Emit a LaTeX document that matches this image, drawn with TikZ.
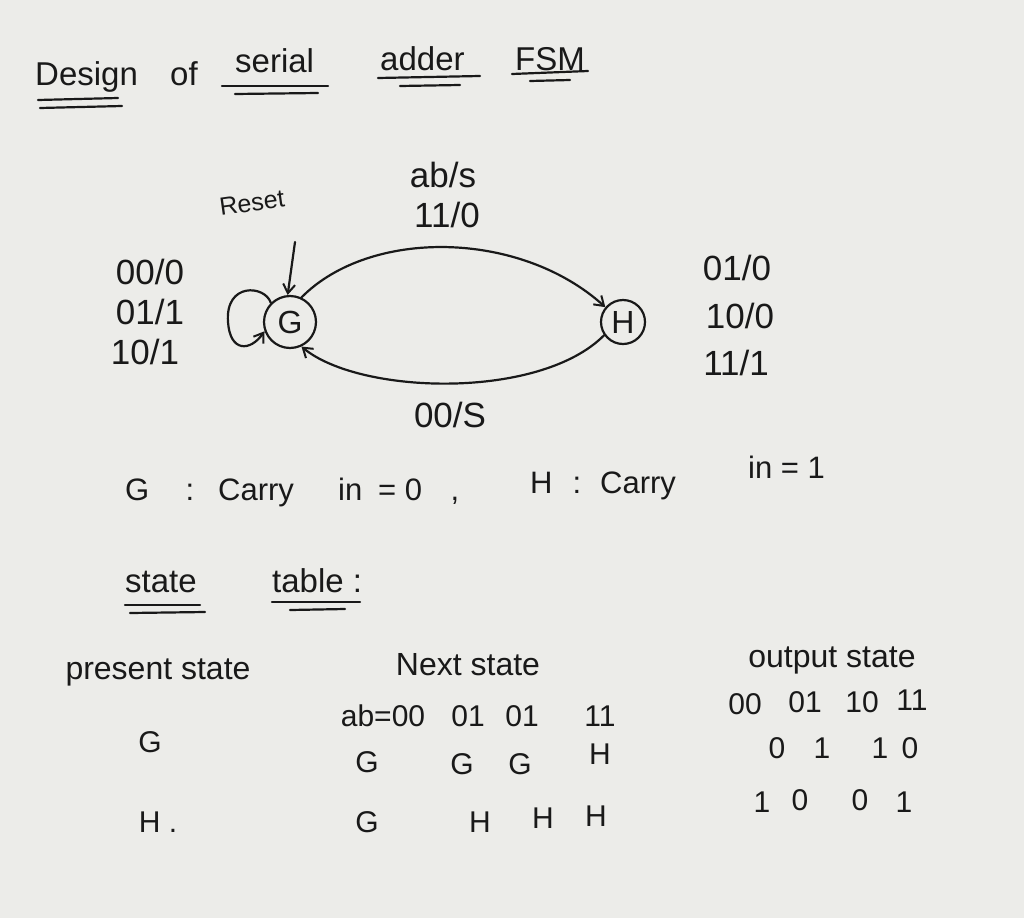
\documentclass[tikz,border=0pt]{standalone}
\usepackage{fontspec}
\setmainfont{Liberation Sans}
\usetikzlibrary{arrows.meta}
\definecolor{paper}{RGB}{236,236,233}
\definecolor{ink}{RGB}{25,25,25}
\begin{document}
\begin{tikzpicture}[x=1pt,y=-1pt,
  every node/.style={text=ink,inner sep=0pt},
  big/.style={font=\fontsize{33}{36}\selectfont},
  lab/.style={font=\fontsize{35}{38}\selectfont},
  mid/.style={font=\fontsize{31}{34}\selectfont},
  head/.style={font=\fontsize{32}{35}\selectfont},
  tab/.style={font=\fontsize{30}{33}\selectfont},
  pen/.style={draw=ink,line width=2.2pt,line cap=round},
  statebox/.style={circle,draw=ink,line width=2.2pt,minimum size=52pt,font=\fontsize{32}{34}\selectfont},
  arr/.style={pen,-{Straight Barb[length=9pt,width=12pt,line width=2pt]}}]
\fill[paper] (0,0) rectangle (1024,918);
\useasboundingbox (0,0) rectangle (1024,918);
% title
\node[big,anchor=base west] (t1) at (35,85) {Design};
\node[big,anchor=base west] (t2) at (170,85) {of};
\node[big,anchor=base west] (t3) at (235,72) {serial};
\node[big,anchor=base west] (t4) at (380,70) {adder};
\node[big,anchor=base west] (t5) at (515,70) {FSM};
\draw[pen] (38,100) -- (118,98); \draw[pen] (40,108) -- (122,106);
\draw[pen] (222,86) -- (328,86); \draw[pen] (235,94) -- (318,93);
\draw[pen] (378,78) -- (480,76); \draw[pen] (400,86) -- (460,85);
\draw[pen] (512,74) -- (588,71); \draw[pen] (530,81) -- (570,80);
% states
\node[statebox] (G) at (290,322) {G};
\node[statebox,minimum size=44pt] (H) at (623,322) {H};
\coordinate (rs) at (295,242);
\node[font=\fontsize{25}{28}\selectfont,rotate=8] (reset) at (252,203) {Reset};
\draw[arr] (rs) -- (G.95);
\draw[arr] (G.65) .. controls (370,228) and (520,230) .. (H.140);
\draw[arr] (H.215) .. controls (540,400) and (360,395) .. (G.-65);
\draw[arr] (G.135) .. controls (265,285) and (225,282) .. (228,322) .. controls (230,352) and (250,352) .. (G.200);
% transition labels
\node[lab] (abs) at (443,175) {ab/s};
\node[lab] (l110) at (447,215) {11/0};
\node[lab] (l000) at (150,272) {00/0};
\node[lab] (l011) at (150,312) {01/1};
\node[lab] (l101) at (145,352) {10/1};
\node[lab] (r010) at (737,268) {01/0};
\node[lab] (r100) at (740,316) {10/0};
\node[lab] (r111) at (736,363) {11/1};
\node[lab] (l00s) at (450,415) {00/S};
% carry
\node[mid,anchor=base west] (cg1) at (125,500) {G};
\node[mid,anchor=base] (cg2) at (190,500) {:};
\node[mid,anchor=base west] (cg3) at (218,500) {Carry};
\node[mid,anchor=base west] (cg4) at (338,500) {in};
\node[mid,anchor=base west] (cg5) at (378,500) {= 0};
\node[mid,anchor=base] (cg6) at (455,500) {,};
\node[mid,anchor=base west] (ch1) at (530,493) {H};
\node[mid,anchor=base] (ch2) at (577,493) {:};
\node[mid,anchor=base west] (ch3) at (600,493) {Carry};
\node[mid,anchor=base west] (ch4) at (748,478) {in = 1};
% state table heading
\node[big,anchor=base west] (st) at (125,592) {state};
\node[big,anchor=base west] (tb) at (272,592) {table :};
\draw[pen] (125,605) -- (200,605); \draw[pen] (130,613) -- (205,612);
\draw[pen] (272,602) -- (360,602); \draw[pen] (290,610) -- (345,609);
% table
\node[head] (ps) at (158,672) {present state};
\node[head] (ns) at (468,665) {Next state};
\node[head] (os) at (832,660) {output state};
\node[tab] (h1) at (383,716) {ab=00};
\node[tab] (h2) at (468,716) {01};
\node[tab] (h3) at (522,716) {01};
\node[tab] (h4) at (600,716) {11};
\node[tab] (o1) at (745,704) {00};
\node[tab] (o2) at (805,702) {01};
\node[tab] (o3) at (862,702) {10};
\node[tab] (o4) at (912,700) {11};
\node[tab] (pg) at (150,742) {G};
\node[tab] (g1) at (367,762) {G};
\node[tab] (g2) at (462,764) {G};
\node[tab] (g3) at (520,764) {G};
\node[tab] (g4) at (600,754) {H};
\node[tab] (v1) at (777,748) {0};
\node[tab] (v2) at (822,748) {1};
\node[tab] (v3) at (880,748) {1};
\node[tab] (v4) at (910,748) {0};
\node[tab] (ph) at (158,822) {H .};
\node[tab] (k1) at (367,822) {G};
\node[tab] (k2) at (480,822) {H};
\node[tab] (k3) at (543,818) {H};
\node[tab] (k4) at (596,816) {H};
\node[tab] (w1) at (762,802) {1};
\node[tab] (w2) at (800,800) {0};
\node[tab] (w3) at (860,800) {0};
\node[tab] (w4) at (904,802) {1};
\end{tikzpicture}
\end{document}
